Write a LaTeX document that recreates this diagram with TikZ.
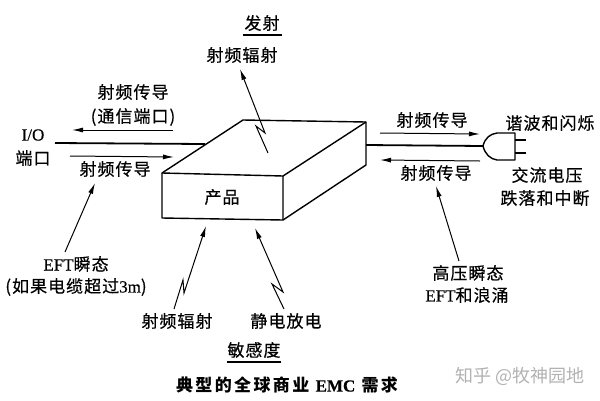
\documentclass[tikz,border=0pt]{standalone}
\usepackage{fontspec}
\setmainfont{Liberation Serif}[FakeBold=0.4]
\newfontfamily\zhfont[LetterSpace=6,FakeBold=0.5]{Noto Sans CJK SC}
\newfontfamily\titrefont[LetterSpace=14]{Noto Sans CJK SC}
\newfontfamily\marquefont{Noto Sans CJK SC}
\usetikzlibrary{arrows.meta}
\tikzset{
    legende/.style={font=\zhfont\fontsize{17}{18}\selectfont, inner sep=0pt, text=black},
    fleche/.style={-{Latex[length=11pt,width=5pt]}, line width=1pt},
    eclair/.style={fleche, line join=miter},
    trait/.style={line width=1.4pt, line join=round},
    souligne/.style={line width=1.1pt}
}
\begin{document}
\begin{tikzpicture}[x=1pt,y=-1pt]
    \useasboundingbox (0,0) rectangle (600,400);

    % Le boitier du produit
    \coordinate (avantHG) at (162,173);
    \coordinate (avantHD) at (283,176);
    \coordinate (avantBG) at (162,218);
    \coordinate (avantBD) at (283,220);
    \coordinate (arriereG) at (243,120);
    \coordinate (arriereD) at (366,122);
    \coordinate (arriereB) at (366,165);
    \draw[trait] (avantHG) -- (arriereG) -- (arriereD) -- (arriereB) -- (avantBD) -- (avantBG) -- cycle;
    \draw[trait] (avantHG) -- (avantHD) -- (avantBD);
    \draw[trait] (avantHD) -- (arriereD);
    \node[legende] (produit) at (222,197) {产品};

    % Les cables et la prise
    \coordinate (ioG) at (55,143);
    \coordinate (ioD) at (205,144);
    \coordinate (secteurG) at (366,145);
    \coordinate (priseG) at (483,146);
    \draw[trait, line width=1.8pt] (ioG) -- (ioD);
    \draw[trait, line width=1.8pt] (secteurG) -- (priseG);
    \draw[trait] (priseG) .. controls (485,138) and (490,134) .. (497,133) -- (515,133) -- (515,160) -- (497,160) .. controls (490,159) and (485,154) .. (priseG);
    \coordinate (broche1G) at (515,140);
    \coordinate (broche1D) at (526,140);
    \coordinate (broche2G) at (515,153);
    \coordinate (broche2D) at (526,153);
    \draw[trait] (broche1G) -- (broche1D);
    \draw[trait] (broche2G) -- (broche2D);

    % Textes a gauche
    \node[legende] (io) at (33,135) {\rmfamily I/O};
    \node[legende] (port) at (33,158) {端口};
    \node[legende] (conduitG1) at (133,92) {射频传导};
    \node[legende] (comm) at (133,117) {(通信端口)};
    \node[legende] (conduitG2) at (115,169) {射频传导};
    \node[legende] (eft) at (76,264) {{\rmfamily EFT}瞬态};
    \node[legende] (cable) at (76,287) {(如果电缆超过{\rmfamily 3m})};

    % Textes a droite
    \node[legende] (conduitD1) at (432,120) {射频传导};
    \node[legende] (conduitD2) at (436,173) {射频传导};
    \node[legende] (harmo) at (550,123) {谐波和闪烁};
    \node[legende] (alter) at (547,175) {交流电压};
    \node[legende] (chute) at (545,198) {跌落和中断};
    \node[legende] (haute) at (468,273) {高压瞬态};
    \node[legende] (onde) at (467,295) {{\rmfamily EFT}和浪涌};

    % Textes en haut et en bas
    \node[legende] (emission) at (262,23) {发射};
    \node[legende] (rayonH) at (242,55) {射频辐射};
    \node[legende] (rayonB) at (177,321) {射频辐射};
    \node[legende] (esd) at (286,321) {静电放电};
    \node[legende] (sensible) at (254,350) {敏感度};
    \node[legende, font=\titrefont\bfseries\fontsize{17}{18}\selectfont] (titre) at (287,385) {典型的全球商业 {\rmfamily EMC} 需求};
    \node[legende, text=black!30, font=\marquefont\fontsize{18}{20}\selectfont] (marque) at (520,376) {知乎 @牧神园地};

    % Les soulignements
    \coordinate (s1G) at (243,35);
    \coordinate (s1D) at (282,35);
    \coordinate (s2G) at (227,362);
    \coordinate (s2D) at (281,362);
    \draw[souligne] (s1G) -- (s1D);
    \draw[souligne] (s2G) -- (s2D);

    % Les fleches droites
    \coordinate (a1) at (173,130);
    \coordinate (b1) at (72,130);
    \coordinate (a2) at (70,156);
    \coordinate (b2) at (174,157);
    \coordinate (a3) at (380,133);
    \coordinate (b3) at (480,134);
    \coordinate (a4) at (480,161);
    \coordinate (b4) at (380,160);
    \coordinate (a5) at (65,252);
    \coordinate (b5) at (95,183);
    \coordinate (a6) at (459,261);
    \coordinate (b6) at (436,186);
    \draw[fleche] (a1) -- (b1);
    \draw[fleche] (a2) -- (b2);
    \draw[fleche] (a3) -- (b3);
    \draw[fleche] (a4) -- (b4);
    \draw[fleche] (a5) -- (b5);
    \draw[fleche] (a6) -- (b6);

    % Les fleches en eclair
    \coordinate (rayonDepart) at (268,153);
    \coordinate (rayonPointe) at (240,69);
    \coordinate (basDepart) at (174,309);
    \coordinate (basPointe) at (206,226);
    \coordinate (esdDepart) at (284,309);
    \coordinate (esdPointe) at (255,228);
    \draw[eclair] (rayonDepart) -- (256,126) -- (265,133) -- (rayonPointe);
    \draw[eclair] (basDepart) -- (183,280) -- (184,293) -- (basPointe);
    \draw[eclair] (esdDepart) -- (272,284) -- (283,292) -- (esdPointe);
\end{tikzpicture}
\end{document}
